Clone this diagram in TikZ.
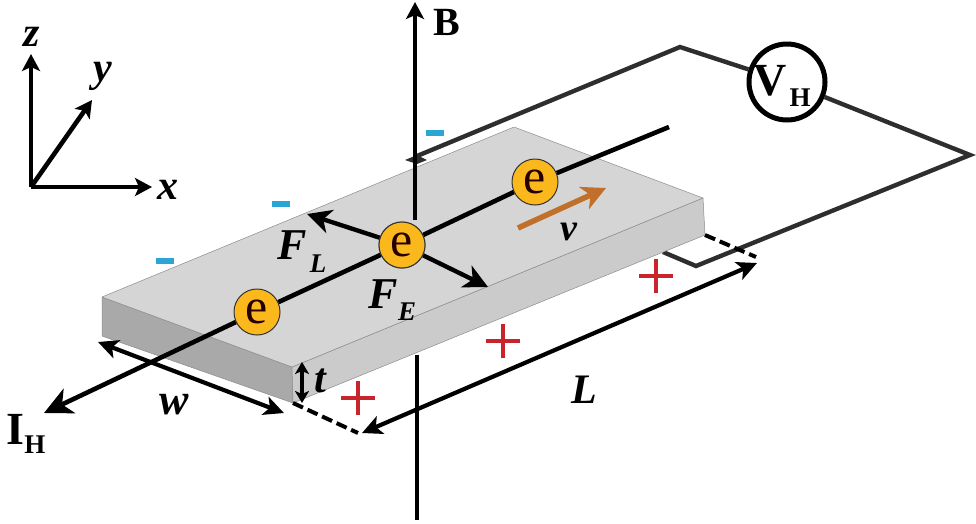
\documentclass[tikz,border=0pt]{standalone}
\usepackage{fontspec}
\setmainfont{Liberation Serif}
\usetikzlibrary{arrows.meta}
\definecolor{topface}{HTML}{D5D5D5}
\definecolor{sideface}{HTML}{CBCBCB}
\definecolor{endface}{HTML}{A9A9A9}
\definecolor{ball}{HTML}{FBB81C}
\definecolor{vcol}{HTML}{C0702A}
\definecolor{minusc}{HTML}{2AA5D5}
\definecolor{plusc}{HTML}{C8242C}
\definecolor{wirec}{HTML}{2E2E2E}
\newcommand{\fs}[1]{\fontsize{#1}{#1}\selectfont}
\tikzset{
  x=1pt,y=-1pt,
  tip/.style={-{Stealth[length=17pt,width=18pt,inset=4pt]}},
  dtip/.style={{Stealth[length=20pt,width=19pt,inset=5pt]}-{Stealth[length=20pt,width=19pt,inset=5pt]}},
  axisline/.style={line width=4.6pt,black,tip},
  dimline/.style={line width=4.2pt,black,dtip},
  wire/.style={line width=4.4pt,wirec,line join=miter},
  dashline/.style={line width=4pt,black,dash pattern=on 11pt off 5pt},
  elec/.style={circle,draw=black!80,line width=1pt,fill=ball,minimum size=46pt,inner sep=0pt,text=black!85!red,font=\fs{50}},
  lab/.style={inner sep=0pt,font=\bfseries\itshape\fs{42}},
  sub/.style={inner sep=0pt,font=\bfseries\fs{27}},
  subi/.style={inner sep=0pt,font=\bfseries\itshape\fs{27}},
  face/.style={draw=black!45,line width=0.5pt,line join=round},
  minusbar/.style={minusc,line width=6pt},
  plusbar/.style={plusc,line width=4pt},
}
\begin{document}
\begin{tikzpicture}
\useasboundingbox (0,0) rectangle (976,523);
% coordinates
\coordinate (pl) at (102,297);
\coordinate (pb) at (514,127);
\coordinate (pr) at (703,198);
\coordinate (pf) at (292,367);
\coordinate (plb) at (102,336);
\coordinate (pfb) at (293,403);
\coordinate (prb) at (705,235);
\coordinate (oo) at (31,187);
\coordinate (zz) at (31,54);
\coordinate (yy) at (92,100);
\coordinate (xx) at (152,187);
\coordinate (blow) at (417,520);
\coordinate (bmid) at (417,355);
\coordinate (bup) at (415,220);
\coordinate (btop) at (415,2);
\coordinate (wa) at (417,156);
\coordinate (wb) at (680,47);
\coordinate (wc) at (970,155);
\coordinate (wd) at (696,266);
\coordinate (we) at (663,252);
\coordinate (iend) at (669,127);
\coordinate (itip) at (44,413);
\coordinate (fl) at (307,214);
\coordinate (fe) at (488,287);
\coordinate (va) at (518,228);
\coordinate (vb) at (606,188);
\coordinate (wl) at (98,342);
\coordinate (wr) at (284,413);
\coordinate (tt) at (302,362);
\coordinate (tb) at (302,403);
\coordinate (la) at (362,433);
\coordinate (lb) at (757,263);
\coordinate (da) at (358,433);
\coordinate (db) at (756,257);
% lower part of B and wires behind the plate
\draw[line width=4.6pt,black] (blow) -- (bmid);
\node[circle,draw=black,line width=5pt,fill=white,minimum size=76pt,inner sep=0pt] (vm) at (787,82) {};
\draw[wire] (wa) -- (wb) -- (vm);
\draw[wire] (vm) -- (wc) -- (wd) -- (we);
\fill[wirec] (405,160) -- (417,155) -- (427,160) -- (417,164) -- cycle;
% plate
\draw[face,fill=endface] (pl) -- (pf) -- (pfb) -- (plb) -- cycle;
\draw[face,fill=sideface] (pf) -- (pr) -- (prb) -- (pfb) -- cycle;
\draw[face,fill=topface] (pl) -- (pb) -- (pr) -- (pf) -- cycle;
% dashes
\draw[dashline] (pfb) -- (da);
\draw[dashline] (prb) -- (db);
% axes
\draw[axisline] (oo) -- (zz);
\draw[axisline] (oo) -- (yy);
\draw[axisline] (oo) -- (xx);
\node[lab] (zl) at (32,37) {z};
\node[lab] (yl) at (103,76) {y};
\node[lab] (xl) at (168,190) {x};
% B
\draw[line width=4.6pt,black,tip] (bup) -- (btop);
\node[inner sep=0pt,font=\bfseries\fs{40}] (bl) at (447,22) {B};
% electrons
\node[elec] (e1) at (257,312) {\raisebox{-1pt}{e}};
\node[elec] (e2) at (402,245) {\raisebox{-1pt}{e}};
\node[elec] (e3) at (535,182) {\raisebox{-1pt}{e}};
% current
\draw[line width=4.6pt,black] (iend) -- (e3);
\draw[line width=4.6pt,black] (e3) -- (e2);
\draw[line width=4.6pt,black] (e2) -- (e1);
\draw[line width=4.6pt,black,-{Stealth[length=28pt,width=27pt,inset=8pt]}] (e1) -- (itip);
% forces
\draw[line width=4.4pt,black,-{Stealth[length=24pt,width=24pt,inset=7pt]}] (e2) -- (fl);
\draw[line width=4.4pt,black,-{Stealth[length=24pt,width=24pt,inset=7pt]}] (e2) -- (fe);
\node[elec] at (e2) {\raisebox{-1pt}{e}};
% v
\draw[line width=5.5pt,vcol,-{Stealth[length=24pt,width=24pt,inset=7pt]}] (va) -- (vb);
% dimensions
\draw[dimline] (wl) -- (wr);
\draw[line width=3.6pt,black,{Stealth[length=12pt,width=14pt,inset=3pt]}-{Stealth[length=12pt,width=14pt,inset=3pt]}] (tt) -- (tb);
\draw[dimline] (la) -- (lb);
% charges
\draw[minusbar] (156,261) -- (174,261);
\draw[minusbar] (272,204) -- (290,204);
\draw[minusbar] (426,133) -- (444,133);
\draw[plusbar] (341,398) -- (375,398) (358,381) -- (358,415);
\draw[plusbar] (486,341) -- (520,341) (503,324) -- (503,358);
\draw[plusbar] (639,276) -- (673,276) (656,259) -- (656,293);
% labels
\node[inner sep=0pt,font=\bfseries\fs{46}] (vv) at (770,81) {V};
\node[sub] (vh) at (800,98) {H};
\node[inner sep=0pt,font=\bfseries\fs{46}] (ii) at (15,429) {I};
\node[sub] (ih) at (35,445) {H};
\node[lab,font=\bfseries\itshape\fs{44}] (fll) at (292,245) {F};
\node[subi] (fls) at (318,264) {L};
\node[lab,font=\bfseries\itshape\fs{44}] (fel) at (383,294) {F};
\node[subi] (fes) at (407,312) {E};
\node[lab,font=\bfseries\itshape\fs{44}] (wt) at (174,405) {w};
\node[lab] (tl) at (320,381) {t};
\node[lab] (ll) at (584,390) {L};
\node[lab,font=\bfseries\itshape\fs{38}] (vl) at (569,232) {v};
\end{tikzpicture}
\end{document}
